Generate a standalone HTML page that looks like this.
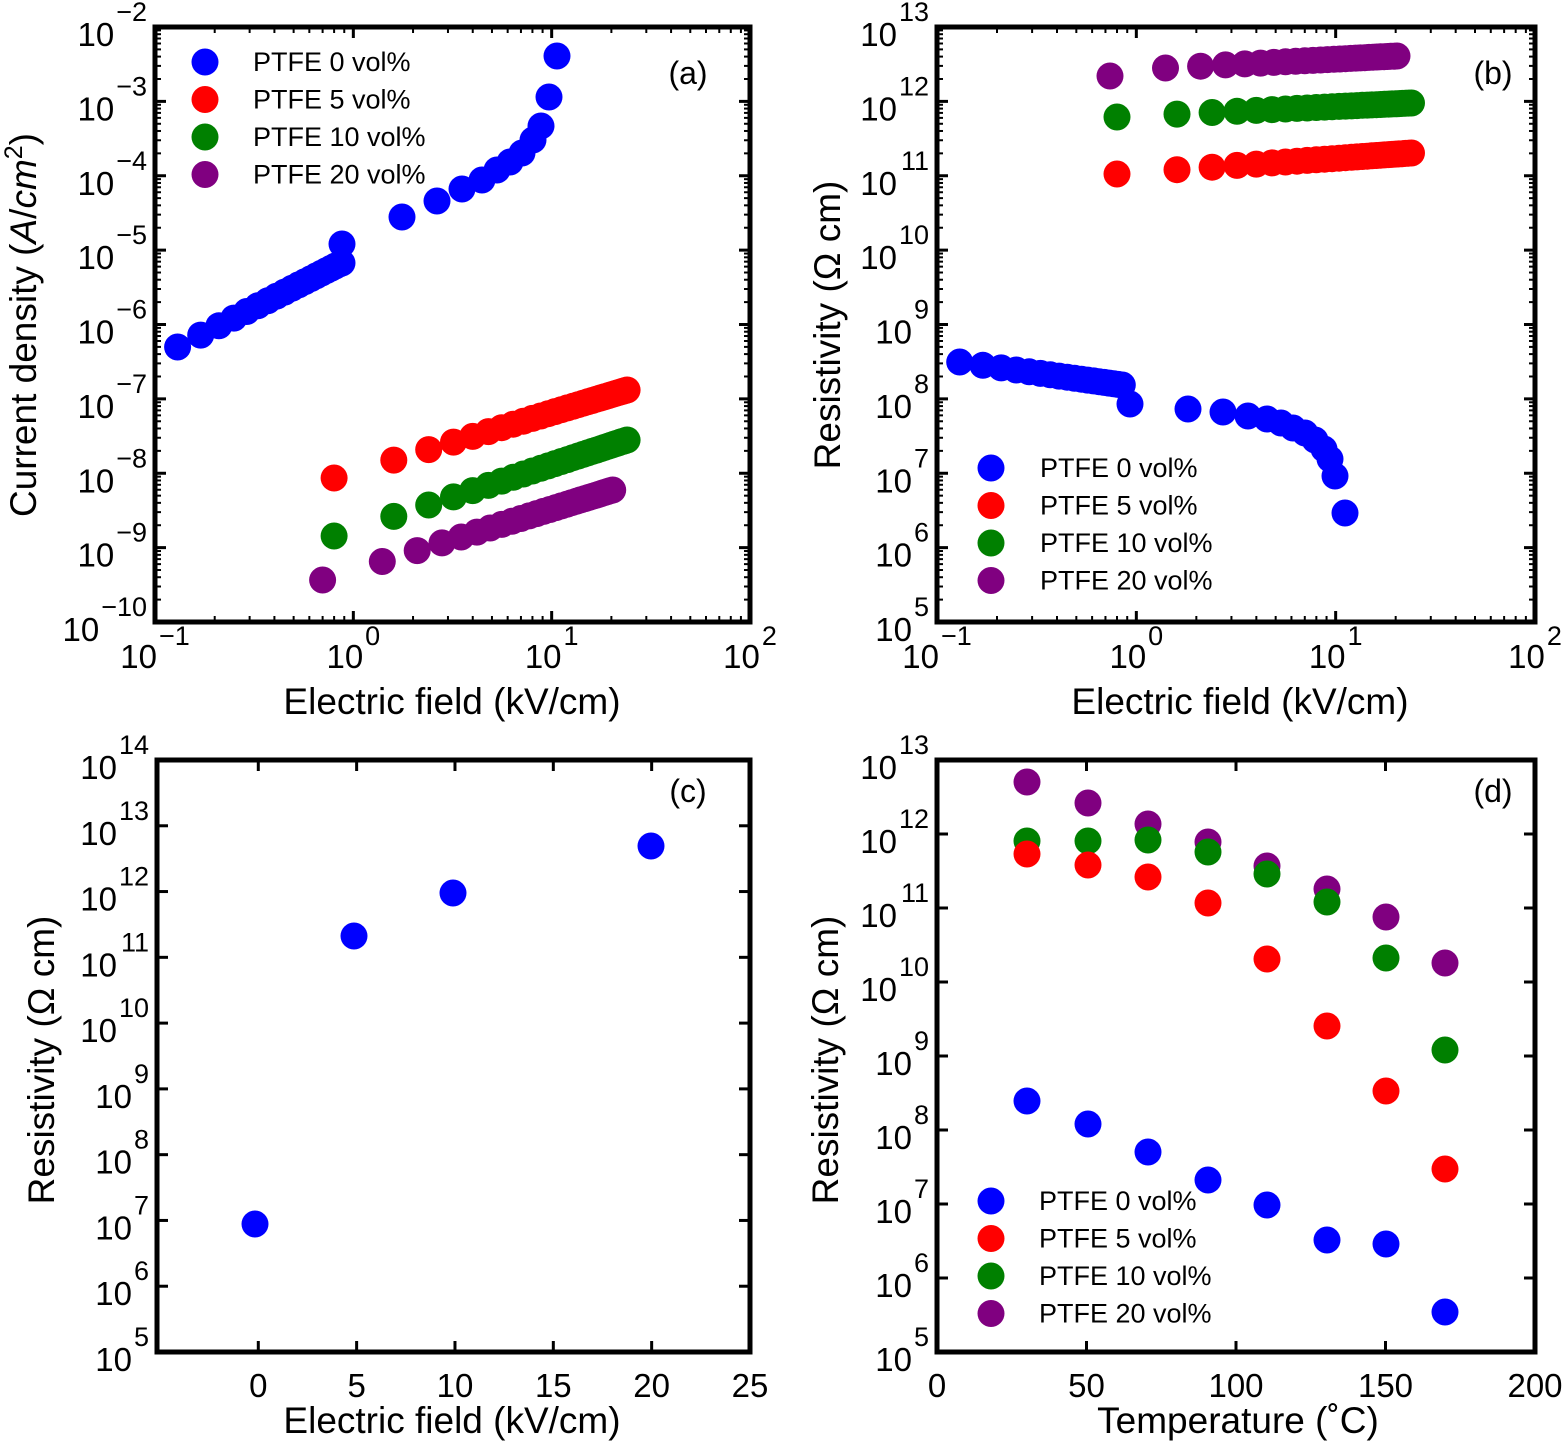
<!DOCTYPE html>
<html><head><meta charset="utf-8"><style>
html,body{margin:0;padding:0;background:#fff;}
svg{display:block;font-family:"Liberation Sans",sans-serif;}
</style></head><body>
<svg id="s" width="1567" height="1444" viewBox="0 0 1567 1444" xmlns="http://www.w3.org/2000/svg">
<g id="g"></g>
</svg>
<script>
var g=document.getElementById('g');var out='';
var C={b:'#0000ff',r:'#ff0000',gr:'#008000',p:'#800080'};
var TS=33,ES=27;
function dot(x,y,c){out+='<circle cx="'+x.toFixed(1)+'" cy="'+y.toFixed(1)+'" r="13.5" fill="'+c+'"/>';}
function txt(x,y,s,sz,anc,extra){out+='<text x="'+x+'" y="'+y+'" font-size="'+sz+'" text-anchor="'+(anc||'start')+'" '+(extra||'')+'>'+s+'</text>';}
function w(s,sz){var t=0;for(var i=0;i<s.length;i++){t+=(s[i]=='−'?0.584:0.556);}return t*sz;}
function box(L,R,T,B){out+='<rect x="'+L+'" y="'+T+'" width="'+(R-L)+'" height="'+(B-T)+'" fill="none" stroke="#000" stroke-width="5"/>';}
function tick(x1,y1,x2,y2,sw){out+='<line x1="'+x1+'" y1="'+y1+'" x2="'+x2+'" y2="'+y2+'" stroke="#000" stroke-width="'+(sw||3)+'"/>';}
function ylog(L,R,T,B,e0,e1,minor){
  var n=e0-e1,d=(B-T)/n;
  for(var k=0;k<=n;k++){var e=e0-k,y=T+k*d;
    if(k>0&&k<n){tick(L,y,L+11,y);tick(R,y,R-11,y);}
    var es=(e<0?'−'+(-e):''+e);var ew=w(es,ES);
    txt(L-8,y-6,es,ES,'end');
    txt(L-8-ew-2,y+19,'10',TS,'end');
    if(minor&&k<n){for(var m=2;m<10;m++){var yy=y+d-Math.log10(m)*d;tick(L,yy,L+6,yy,2);tick(R,yy,R-6,yy,2);}}
  }}
function xlog(L,R,T,B,e0,e1){var n=e1-e0,d=(R-L)/n;
  for(var k=0;k<=n;k++){var e=e0+k,x=L+k*d;
    if(k>0&&k<n){tick(x,B,x,B-11);tick(x,T,x,T+11);}
    var es=(e<0?'−'+(-e):''+e);var ew=w(es,ES),tw=w('10',TS)+2+ew;
    var x0=x-tw/2;txt(x0,B+46,'10',TS);txt(x0+w('10',TS)+2,B+23,es,ES);
    if(k<n){for(var m=2;m<10;m++){var xx=x+Math.log10(m)*d;tick(xx,B,xx,B-6,2);tick(xx,T,xx,T+6,2);}}
  }}
function xlin(L,R,T,B,v0,v1,vals){vals.forEach(function(v){var x=L+(v-v0)/(v1-v0)*(R-L);
  if(x>L+3&&x<R-3){tick(x,B,x,B-11);tick(x,T,x,T+11);}txt(x,B+45,''+v,TS,'middle');});}
function legend(x,y0,tx){var cs=[C.b,C.r,C.gr,C.p],ls=['PTFE 0 vol%','PTFE 5 vol%','PTFE 10 vol%','PTFE 20 vol%'];
  for(var i=0;i<4;i++){var y=y0+i*37.5;dot(x,y,cs[i]);txt(tx,y+9,ls[i],27);}}
function ylabel(x,y,s){out+='<text x="'+x+'" y="'+y+'" font-size="37" text-anchor="middle" transform="rotate(-90 '+x+' '+y+')">'+s+'</text>';}
function series(E0,step,n,L,d,y0,y1,c){var xa=L+d*(Math.log10(E0)+1),xb=L+d*(Math.log10(E0+step*(n-1))+1);
  for(var i=0;i<n;i++){var E=E0+step*i,x=L+d*(Math.log10(E)+1);dot(x,y0+(y1-y0)*(x-xa)/(xb-xa),c);}}
// Panel a
var L=155,R=750,T=27,B=622,d=(R-L)/3;
xlog(L,R,T,B,-1,2);ylog(L,R,T,B,-2,-10,true);
series(0.8,0.8,30,L,d,478,390,C.r);
series(0.8,0.8,30,L,d,536,440,C.gr);
series(0.7,0.7,29,L,d,580,490,C.p);
series(0.13,0.04,19,L,d,347,264,C.b);
dot(342,244,C.b);dot(342,263,C.b);
[[402,217],[437,201],[462,189],[482,180],[497,170],[510,162],[522,153],[533,140],[541,126],[549,97],[557,56]].forEach(function(p){dot(p[0],p[1],C.b);});
legend(205,62,253);
txt(688,84,'(a)',32,'middle');
txt(452,714,'Electric field (kV/cm)',37,'middle');
out+='<text x="0" y="0" font-size="37" text-anchor="middle" transform="translate(36 325) rotate(-90)">Current density (<tspan font-style="italic">A</tspan>/<tspan font-style="italic">cm</tspan><tspan font-size="25" dy="-14">2</tspan><tspan dy="14">)</tspan></text>';
// Panel b
L=937;R=1535;d=(R-L)/3;
xlog(L,R,T,B,-1,2);ylog(L,R,T,B,13,5,true);
series(0.8,0.8,30,L,d,174,153,C.r);
series(0.8,0.8,30,L,d,117,103,C.gr);
dot(1110,76,C.p);series(1.4,0.7,28,L,d,68,56,C.p);
series(0.13,0.04,19,L,d,362,385,C.b);
dot(1130,404,C.b);
[[1188,409],[1223,412],[1248,416],[1267,419],[1281,423],[1293,428],[1305,433],[1315,440],[1324,449],[1330,459],[1335,476],[1345,513]].forEach(function(p){dot(p[0],p[1],C.b);});
legend(991,468,1040);
txt(1493,84,'(b)',32,'middle');
txt(1240,714,'Electric field (kV/cm)',37,'middle');
ylabel(840,325,'Resistivity (Ω cm)');
// Panel c
L=157;R=750;T=760;B=1352;
ylog(L,R,T,B,14,5,false);xlin(L,R,T,B,-5.15,25,[0,5,10,15,20,25]);
[[255,1224],[354,936],[453,893],[651,846]].forEach(function(p){dot(p[0],p[1],C.b);});
txt(688,802,'(c)',32,'middle');
txt(452,1433,'Electric field (kV/cm)',37,'middle');
ylabel(54,1060,'Resistivity (Ω cm)');
// Panel d
L=937;R=1535;
ylog(L,R,T,B,13,5,false);xlin(L,R,T,B,0,200,[0,50,100,150,200]);
var xs=[1027,1088,1148,1208,1267,1327,1386,1445];
[[C.p,[782,803,824,842,866,889,917,963]],[C.gr,[841,841,840,852,874,902,958,1050]],[C.r,[854,865,877,903,959,1026,1091,1169]],[C.b,[1101,1124,1152,1180,1205,1240,1244,1312]]].forEach(function(s){s[1].forEach(function(y,i){dot(xs[i],y,s[0]);});});
legend(991,1201,1039);
txt(1493,802,'(d)',32,'middle');
txt(1238,1433,'Temperature (˚C)',37,'middle');
ylabel(838,1060,'Resistivity (Ω cm)');
box(155,750,27,622);box(937,1535,27,622);box(157,750,760,1352);box(937,1535,760,1352);
g.innerHTML=out;
</script>
</body></html>
